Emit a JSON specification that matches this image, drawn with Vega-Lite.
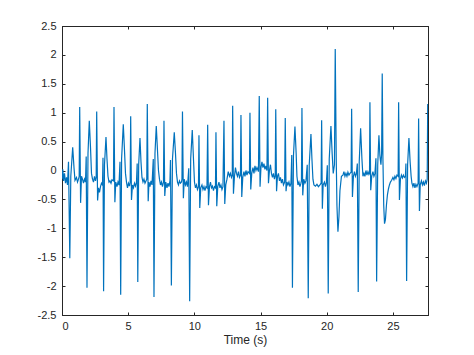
{
  "$schema": "https://vega.github.io/schema/vega-lite/v6.json",
  "width": 366,
  "height": 289,
  "autosize": {"type": "none"},
  "padding": {"left": 62, "top": 26, "right": 46, "bottom": 40},
  "background": "white",
  "config": {
    "view": {"stroke": "#262626", "strokeWidth": 1},
    "axis": {
      "labelFont": "Liberation Sans",
      "labelFontSize": 11,
      "labelColor": "#262626",
      "titleFont": "Liberation Sans",
      "titleFontSize": 12,
      "titleFontWeight": "normal",
      "titleColor": "#262626",
      "tickColor": "#262626",
      "domainColor": "#262626",
      "tickSize": -3,
      "grid": false
    }
  },
  "resolve": {"axis": {"x": "independent", "y": "independent"}},
  "data": {"values": [
    {"t":0,"v":-0.15},{"t":0.06,"v":0.02},{"t":0.121,"v":-0.18},{"t":0.189,"v":-0.05},{"t":0.264,"v":-0.22},{"t":0.34,"v":-0.12},{"t":0.415,"v":-0.25},{"t":0.491,"v":0.15},{"t":0.589,"v":-1.52},{"t":0.665,"v":-0.1},{"t":0.808,"v":0.4},{"t":0.906,"v":0.05},{"t":0.982,"v":-0.17},{"t":1.095,"v":-0.12},{"t":1.171,"v":-0.2},{"t":1.246,"v":-0.15},{"t":1.299,"v":-0.1},{"t":1.337,"v":1.1},{"t":1.405,"v":-0.56},{"t":1.473,"v":-0.1},{"t":1.548,"v":-0.15},{"t":1.624,"v":-0.22},{"t":1.699,"v":-0.15},{"t":1.775,"v":-0.2},{"t":1.828,"v":0.24},{"t":1.888,"v":-2.03},{"t":1.964,"v":0.3},{"t":2.062,"v":0.86},{"t":2.153,"v":0.4},{"t":2.228,"v":-0.05},{"t":2.304,"v":-0.15},{"t":2.379,"v":-0.2},{"t":2.455,"v":-0.1},{"t":2.53,"v":-0.18},{"t":2.583,"v":-0.12},{"t":2.621,"v":1.02},{"t":2.689,"v":-0.52},{"t":2.757,"v":-0.3},{"t":2.832,"v":-0.38},{"t":2.908,"v":-0.28},{"t":2.983,"v":-0.22},{"t":3.059,"v":-0.25},{"t":3.097,"v":0.22},{"t":3.142,"v":-2.09},{"t":3.21,"v":0.1},{"t":3.323,"v":0.58},{"t":3.399,"v":0.2},{"t":3.474,"v":-0.1},{"t":3.55,"v":-0.2},{"t":3.625,"v":-0.18},{"t":3.701,"v":-0.22},{"t":3.776,"v":-0.16},{"t":3.89,"v":-0.18},{"t":3.928,"v":1.1},{"t":3.995,"v":-0.55},{"t":4.063,"v":-0.2},{"t":4.154,"v":-0.28},{"t":4.23,"v":-0.2},{"t":4.305,"v":-0.25},{"t":4.381,"v":0.15},{"t":4.434,"v":-2.15},{"t":4.502,"v":0.2},{"t":4.63,"v":0.8},{"t":4.721,"v":0.35},{"t":4.796,"v":-0.05},{"t":4.872,"v":-0.2},{"t":4.947,"v":-0.3},{"t":5.023,"v":-0.22},{"t":5.098,"v":-0.27},{"t":5.151,"v":-0.2},{"t":5.189,"v":0.94},{"t":5.249,"v":-0.51},{"t":5.325,"v":-0.25},{"t":5.4,"v":-0.3},{"t":5.476,"v":-0.22},{"t":5.551,"v":-0.27},{"t":5.627,"v":-0.2},{"t":5.68,"v":0.12},{"t":5.725,"v":-1.93},{"t":5.793,"v":0.1},{"t":5.891,"v":0.56},{"t":5.967,"v":0.15},{"t":6.042,"v":-0.12},{"t":6.118,"v":-0.2},{"t":6.193,"v":-0.15},{"t":6.269,"v":-0.22},{"t":6.344,"v":-0.18},{"t":6.405,"v":-0.15},{"t":6.443,"v":1.15},{"t":6.511,"v":-0.53},{"t":6.571,"v":-0.2},{"t":6.647,"v":-0.28},{"t":6.722,"v":-0.18},{"t":6.798,"v":-0.25},{"t":6.896,"v":0.2},{"t":6.949,"v":-2.19},{"t":7.024,"v":0.3},{"t":7.122,"v":0.77},{"t":7.213,"v":0.35},{"t":7.289,"v":0},{"t":7.364,"v":-0.15},{"t":7.44,"v":-0.25},{"t":7.515,"v":-0.2},{"t":7.591,"v":-0.28},{"t":7.666,"v":-0.2},{"t":7.704,"v":0.86},{"t":7.764,"v":-0.44},{"t":7.84,"v":-0.2},{"t":7.931,"v":-0.3},{"t":8.006,"v":-0.22},{"t":8.082,"v":-0.28},{"t":8.157,"v":-0.18},{"t":8.195,"v":0.18},{"t":8.263,"v":-1.99},{"t":8.346,"v":0.2},{"t":8.482,"v":0.66},{"t":8.573,"v":0.3},{"t":8.648,"v":-0.05},{"t":8.724,"v":-0.2},{"t":8.799,"v":-0.25},{"t":8.875,"v":-0.18},{"t":8.95,"v":-0.22},{"t":9.026,"v":-0.2},{"t":9.063,"v":-0.15},{"t":9.101,"v":1.02},{"t":9.169,"v":-0.48},{"t":9.237,"v":-0.15},{"t":9.328,"v":-0.25},{"t":9.403,"v":-0.2},{"t":9.479,"v":-0.28},{"t":9.577,"v":0.04},{"t":9.645,"v":-2.26},{"t":9.721,"v":0.2},{"t":9.841,"v":0.7},{"t":9.932,"v":0.2},{"t":10.008,"v":-0.2},{"t":10.083,"v":-0.3},{"t":10.159,"v":-0.25},{"t":10.234,"v":-0.33},{"t":10.31,"v":-0.28},{"t":10.347,"v":0.61},{"t":10.408,"v":-0.65},{"t":10.483,"v":-0.3},{"t":10.574,"v":-0.25},{"t":10.65,"v":-0.33},{"t":10.725,"v":-0.28},{"t":10.801,"v":-0.35},{"t":10.876,"v":-0.28},{"t":10.952,"v":-0.3},{"t":11.005,"v":0.79},{"t":11.065,"v":-0.6},{"t":11.141,"v":-0.28},{"t":11.216,"v":-0.2},{"t":11.292,"v":-0.3},{"t":11.367,"v":-0.27},{"t":11.443,"v":-0.35},{"t":11.518,"v":-0.28},{"t":11.594,"v":-0.3},{"t":11.631,"v":0.66},{"t":11.692,"v":-0.62},{"t":11.767,"v":-0.28},{"t":11.858,"v":-0.2},{"t":11.934,"v":-0.3},{"t":12.009,"v":-0.25},{"t":12.085,"v":-0.33},{"t":12.16,"v":-0.28},{"t":12.236,"v":0.86},{"t":12.296,"v":-0.58},{"t":12.372,"v":-0.25},{"t":12.462,"v":-0.15},{"t":12.56,"v":-0.02},{"t":12.651,"v":-0.1},{"t":12.727,"v":-0.05},{"t":12.802,"v":-0.12},{"t":12.863,"v":-0.08},{"t":12.893,"v":1.12},{"t":12.953,"v":-0.4},{"t":13.029,"v":-0.1},{"t":13.104,"v":0.05},{"t":13.18,"v":-0.05},{"t":13.255,"v":-0.1},{"t":13.331,"v":-0.02},{"t":13.406,"v":-0.12},{"t":13.482,"v":-0.08},{"t":13.52,"v":0.96},{"t":13.58,"v":-0.46},{"t":13.656,"v":-0.12},{"t":13.746,"v":-0.02},{"t":13.822,"v":-0.1},{"t":13.897,"v":0},{"t":13.973,"v":-0.08},{"t":14.048,"v":-0.02},{"t":14.162,"v":-0.05},{"t":14.199,"v":1},{"t":14.26,"v":-0.33},{"t":14.335,"v":-0.05},{"t":14.426,"v":0.05},{"t":14.502,"v":-0.05},{"t":14.577,"v":0.08},{"t":14.653,"v":0},{"t":14.728,"v":0.05},{"t":14.841,"v":-0.02},{"t":14.902,"v":1.29},{"t":14.962,"v":-0.28},{"t":15.03,"v":0.05},{"t":15.106,"v":0.15},{"t":15.181,"v":0.05},{"t":15.257,"v":0.12},{"t":15.332,"v":0.02},{"t":15.408,"v":0.08},{"t":15.483,"v":0},{"t":15.536,"v":1.26},{"t":15.597,"v":-0.22},{"t":15.672,"v":0},{"t":15.748,"v":0.1},{"t":15.823,"v":-0.05},{"t":15.899,"v":-0.12},{"t":15.974,"v":-0.05},{"t":16.05,"v":-0.15},{"t":16.11,"v":-0.1},{"t":16.148,"v":1.06},{"t":16.209,"v":-0.36},{"t":16.277,"v":-0.1},{"t":16.352,"v":-0.05},{"t":16.428,"v":-0.18},{"t":16.503,"v":-0.12},{"t":16.579,"v":-0.22},{"t":16.654,"v":-0.15},{"t":16.73,"v":-0.25},{"t":16.82,"v":-0.2},{"t":16.866,"v":0.91},{"t":16.926,"v":-0.36},{"t":16.994,"v":-0.2},{"t":17.07,"v":-0.25},{"t":17.145,"v":-0.2},{"t":17.221,"v":-0.28},{"t":17.296,"v":-0.22},{"t":17.357,"v":0.27},{"t":17.409,"v":-2.03},{"t":17.485,"v":0.25},{"t":17.598,"v":0.76},{"t":17.689,"v":0.3},{"t":17.749,"v":-0.1},{"t":17.825,"v":-0.25},{"t":17.9,"v":-0.2},{"t":17.976,"v":-0.28},{"t":18.051,"v":-0.22},{"t":18.089,"v":-0.18},{"t":18.127,"v":1.08},{"t":18.187,"v":-0.43},{"t":18.263,"v":-0.15},{"t":18.354,"v":-0.22},{"t":18.429,"v":-0.18},{"t":18.527,"v":0.1},{"t":18.603,"v":-2.21},{"t":18.678,"v":0.1},{"t":18.807,"v":0.63},{"t":18.882,"v":0.2},{"t":18.958,"v":-0.15},{"t":19.033,"v":-0.25},{"t":19.147,"v":-0.27},{"t":19.26,"v":-0.24},{"t":19.373,"v":-0.28},{"t":19.486,"v":-0.25},{"t":19.577,"v":-0.22},{"t":19.615,"v":0.87},{"t":19.668,"v":-0.66},{"t":19.728,"v":-0.25},{"t":19.826,"v":-0.2},{"t":19.902,"v":-0.28},{"t":19.977,"v":-0.2},{"t":20.045,"v":0.09},{"t":20.113,"v":-2.13},{"t":20.189,"v":0.2},{"t":20.317,"v":0.77},{"t":20.408,"v":0.3},{"t":20.491,"v":-0.05},{"t":20.582,"v":0.1},{"t":20.642,"v":2.1},{"t":20.718,"v":0.2},{"t":20.77,"v":-0.6},{"t":20.846,"v":-1.06},{"t":20.922,"v":-0.8},{"t":20.997,"v":-0.35},{"t":21.11,"v":-0.1},{"t":21.224,"v":-0.08},{"t":21.299,"v":-0.02},{"t":21.375,"v":-0.1},{"t":21.45,"v":-0.05},{"t":21.526,"v":-0.1},{"t":21.601,"v":-0.03},{"t":21.677,"v":-0.08},{"t":21.752,"v":-0.05},{"t":21.843,"v":-0.03},{"t":21.881,"v":1.07},{"t":21.941,"v":-0.46},{"t":22.017,"v":-0.1},{"t":22.092,"v":-0.02},{"t":22.168,"v":-0.1},{"t":22.243,"v":-0.05},{"t":22.311,"v":0.12},{"t":22.379,"v":-2.1},{"t":22.455,"v":0.15},{"t":22.56,"v":0.73},{"t":22.659,"v":0.2},{"t":22.734,"v":-0.1},{"t":22.81,"v":-0.05},{"t":22.885,"v":-0.1},{"t":22.961,"v":0},{"t":23.036,"v":-0.08},{"t":23.112,"v":-0.02},{"t":23.187,"v":-0.07},{"t":23.233,"v":-0.05},{"t":23.263,"v":1.18},{"t":23.323,"v":-0.34},{"t":23.399,"v":-0.1},{"t":23.49,"v":-0.02},{"t":23.565,"v":-0.1},{"t":23.641,"v":-0.05},{"t":23.716,"v":0.21},{"t":23.769,"v":-1.92},{"t":23.852,"v":0.1},{"t":23.943,"v":0.61},{"t":24.018,"v":0.25},{"t":24.094,"v":0.1},{"t":24.147,"v":0.3},{"t":24.192,"v":1.68},{"t":24.245,"v":0.2},{"t":24.305,"v":-0.6},{"t":24.366,"v":-0.92},{"t":24.434,"v":-0.85},{"t":24.509,"v":-0.6},{"t":24.585,"v":-0.42},{"t":24.66,"v":-0.32},{"t":24.736,"v":-0.25},{"t":24.811,"v":-0.2},{"t":24.902,"v":-0.17},{"t":25.0,"v":-0.12},{"t":25.076,"v":-0.16},{"t":25.151,"v":-0.1},{"t":25.227,"v":-0.14},{"t":25.302,"v":-0.08},{"t":25.393,"v":-0.1},{"t":25.431,"v":1.18},{"t":25.491,"v":-0.51},{"t":25.567,"v":-0.15},{"t":25.642,"v":-0.08},{"t":25.718,"v":-0.13},{"t":25.793,"v":-0.08},{"t":25.869,"v":-0.12},{"t":25.944,"v":-0.1},{"t":25.982,"v":0.12},{"t":26.035,"v":-1.91},{"t":26.11,"v":0.1},{"t":26.209,"v":0.56},{"t":26.299,"v":0.15},{"t":26.375,"v":-0.1},{"t":26.435,"v":-0.22},{"t":26.511,"v":-0.28},{"t":26.586,"v":-0.22},{"t":26.662,"v":-0.3},{"t":26.737,"v":-0.24},{"t":26.813,"v":-0.28},{"t":26.903,"v":-0.22},{"t":26.941,"v":0.9},{"t":27.002,"v":-0.7},{"t":27.062,"v":-0.25},{"t":27.153,"v":-0.18},{"t":27.228,"v":-0.25},{"t":27.304,"v":-0.2},{"t":27.379,"v":-0.26},{"t":27.455,"v":-0.18},{"t":27.53,"v":-0.22},{"t":27.591,"v":-0.15},{"t":27.628,"v":1.15}
  ]},
  "layer": [
    {
      "mark": {"type": "line", "color": "#0072BD", "strokeWidth": 1.2, "clip": true},
      "encoding": {
        "x": {"field": "t", "type": "quantitative",
          "scale": {"domain": [0, 27.65], "nice": false, "zero": false},
          "axis": {"orient": "bottom", "title": "Time (s)", "values": [0, 5, 10, 15, 20, 25], "labelPadding": 8, "titlePadding": 3, "labelExpr": "'' + datum.value"}},
        "y": {"field": "v", "type": "quantitative",
          "scale": {"domain": [-2.5, 2.5], "nice": false, "zero": false},
          "axis": {"orient": "left", "title": null, "values": [-2.5, -2, -1.5, -1, -0.5, 0, 0.5, 1, 1.5, 2, 2.5], "labelPadding": 9, "labelExpr": "'' + datum.value"}}
      }
    },
    {
      "mark": {"type": "line", "strokeOpacity": 0},
      "encoding": {
        "x": {"field": "t", "type": "quantitative",
          "axis": {"orient": "top", "title": null, "labels": false, "values": [0, 5, 10, 15, 20, 25]}},
        "y": {"field": "v", "type": "quantitative",
          "axis": {"orient": "right", "title": null, "labels": false, "values": [-2.5, -2, -1.5, -1, -0.5, 0, 0.5, 1, 1.5, 2, 2.5]}}
      }
    }
  ]
}
